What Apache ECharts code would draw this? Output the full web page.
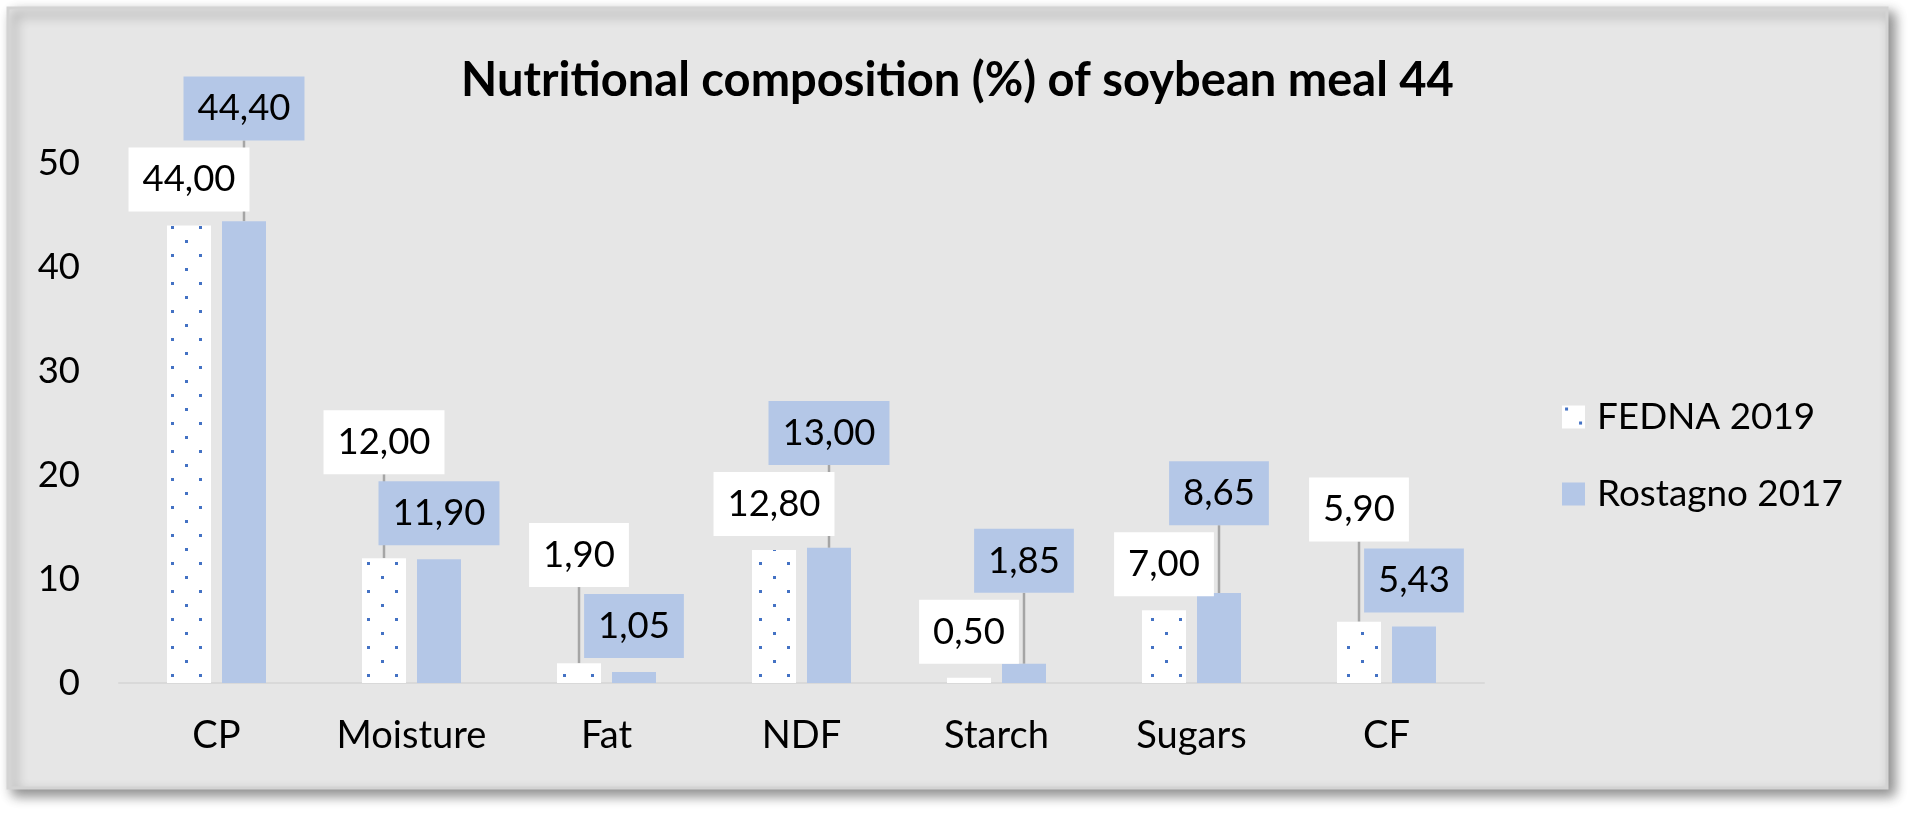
<!DOCTYPE html>
<html>
<head>
<meta charset="utf-8">
<script src="https://cdn.jsdelivr.net/npm/echarts@6/dist/echarts.min.js"></script>
<style>
html,body{margin:0;padding:0;background:#ffffff;}
#c{width:1915px;height:819px;}
</style>
</head>
<body>
<div id="c"></div>
<script>
// ---- data ----
const categories = ['CP', 'Moisture', 'Fat', 'NDF', 'Starch', 'Sugars', 'CF'];
const seriesNames = ['FEDNA 2019', 'Rostagno 2017'];
const fedna = [44.00, 12.00, 1.90, 12.80, 0.50, 7.00, 5.90];
const rostagno = [44.40, 11.90, 1.05, 13.00, 1.85, 8.65, 5.43];
const yMin = 0, yMax = 50, yStep = 10;
const titleText = 'Nutritional composition (%) of soybean meal 44';

// ---- styles ----
const FONT = 'Lato';
function fit(text, weight, target) {
  const ctx = document.createElement('canvas').getContext('2d');
  ctx.font = weight + ' 100px ' + FONT;
  return 100 * target / ctx.measureText(text).width;
}
const labelSize = fit('44,40', 'normal', 93);
const catSize = fit('Moisture', 'normal', 150);
const legendSize = fit('Rostagno 2017', 'normal', 246);
const titleSize = fit(titleText, 'bold', 993);

const BLUE = '#b4c7e7';
const LABEL_DIST = 14;
const STACK_GAP = 7;

// dotted pattern for FEDNA
const pc = document.createElement('canvas');
pc.width = 28; pc.height = 28;
const g = pc.getContext('2d');
g.fillStyle = '#ffffff'; g.fillRect(0, 0, 28, 28);
g.fillStyle = '#4472c4';
g.fillRect(3, 2, 3, 3);
g.fillRect(17, 16, 3, 3);
const dotPattern = { image: pc, repeat: 'repeat' };

function fmt(p) { return p.value.toFixed(2).replace('.', ','); }

function makeLayout(own, other) {
  return function (p) {
    const i = p.dataIndex;
    const v = own[i], o = other[i];
    if (!(v > o)) return {};
    const r = p.rect;
    const bottom = r.y + r.height;
    const otherTop = bottom - r.height * o / v;
    const lh = p.labelRect.height;
    const y = otherTop - LABEL_DIST - lh - STACK_GAP;
    return { x: r.x + r.width / 2, y: y, align: 'center', verticalAlign: 'bottom' };
  };
}
function makeData(own, other) {
  return own.map((v, i) => ({ value: v, labelLine: { show: v > other[i] } }));
}

const labelBase = {
  show: true, position: 'top', distance: LABEL_DIST, formatter: fmt,
  fontFamily: FONT, fontSize: labelSize, lineHeight: 48, color: '#000000',
  padding: [8, 14]
};
const lineBase = { show: true, length2: 0, lineStyle: { color: '#a5a5a5', width: 2.5 } };

const chart = echarts.init(document.getElementById('c'), null, { renderer: 'canvas' });
chart.setOption({
  animation: false,
  backgroundColor: '#ffffff',
  textStyle: { fontFamily: FONT },
  graphic: [{
    type: 'rect', z: -10, silent: true,
    shape: { x: 8, y: 8, width: 1879, height: 780 },
    style: {
      fill: '#e6e6e6', stroke: '#d3d3d3', lineWidth: 3,
      shadowColor: 'rgba(0,0,0,0.45)', shadowBlur: 12, shadowOffsetX: 6, shadowOffsetY: 6
    }
  }],
  title: {
    text: titleText, left: 'center', top: 76 - 0.5 * titleSize,
    textStyle: { fontFamily: FONT, fontWeight: 'bold', fontSize: titleSize, lineHeight: titleSize, color: '#000000' }
  },
  legend: {
    orient: 'vertical', left: 1557, top: 392,
    itemWidth: 23, itemHeight: 23, itemGap: 37,
    icon: 'rect',
    data: seriesNames,
    textStyle: { fontFamily: FONT, fontSize: legendSize, lineHeight: 40, color: '#000000', padding: [0, 0, 0, 7] }
  },
  grid: { left: 119, right: 431, top: 163, bottom: 136, containLabel: false },
  xAxis: {
    type: 'category', data: categories,
    axisLine: { show: true, lineStyle: { color: '#d9d9d9', width: 2 } },
    axisTick: { show: false },
    axisLabel: { fontFamily: FONT, fontSize: catSize, color: '#000000', margin: 34 },
    splitLine: { show: false }
  },
  yAxis: {
    type: 'value', min: yMin, max: yMax, interval: yStep,
    axisLine: { show: false }, axisTick: { show: false }, splitLine: { show: false },
    axisLabel: { fontFamily: FONT, fontSize: labelSize, color: '#000000', margin: 39 }
  },
  series: [
    {
      name: seriesNames[0], type: 'bar', barWidth: 44, barGap: '25%',
      itemStyle: { color: dotPattern },
      data: makeData(fedna, rostagno),
      label: Object.assign({}, labelBase, { backgroundColor: '#ffffff' }),
      labelLine: lineBase,
      labelLayout: makeLayout(fedna, rostagno)
    },
    {
      name: seriesNames[1], type: 'bar', barWidth: 44, barGap: '25%',
      itemStyle: { color: BLUE },
      data: makeData(rostagno, fedna),
      label: Object.assign({}, labelBase, { backgroundColor: BLUE }),
      labelLine: lineBase,
      labelLayout: makeLayout(rostagno, fedna)
    }
  ]
});
</script>
</body>
</html>
